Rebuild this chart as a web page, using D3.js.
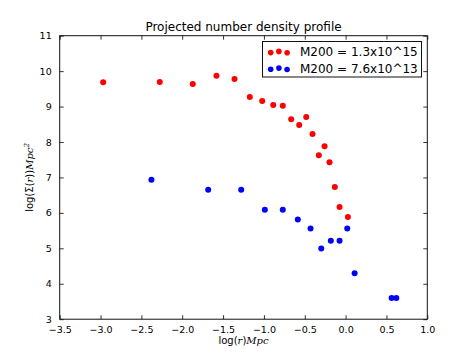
<!DOCTYPE html>
<html>
<head>
<meta charset="utf-8">
<script src="https://cdn.jsdelivr.net/npm/d3@7"></script>
<style>
  html, body { margin: 0; padding: 0; background: #fff; }
  svg { display: block; }
  text { font-family: "DejaVu Sans", sans-serif; fill: #000; }
  .math { font-family: "DejaVu Serif", serif; font-style: italic; }
</style>
</head>
<body>
<svg id="chart" width="474" height="355"></svg>
<script>
// ---- data ----
const redX = [-2.968, -2.275, -1.871, -1.581, -1.360, -1.173, -1.021, -0.886, -0.769, -0.666,
              -0.568, -0.482, -0.405, -0.258, -0.328, -0.197, -0.132, -0.074, 0.028];
const redY = [9.686, 9.694, 9.638, 9.872, 9.779, 9.271, 9.158, 9.045, 9.025, 8.642,
              8.481, 8.707, 8.227, 7.880, 7.626, 7.429, 6.732, 6.168, 5.886];
const blueX = [-2.377, -1.682, -1.278, -0.989, -0.769, -0.585, -0.429, -0.298, -0.181, -0.074,
               0.020, 0.110, 0.563, 0.621];
const blueY = [6.938, 6.656, 6.656, 6.092, 6.092, 5.810, 5.556, 4.992, 5.217, 5.217,
               5.556, 4.298, 3.601, 3.601];
const xTicks = [-3.5, -3.0, -2.5, -2.0, -1.5, -1.0, -0.5, 0.0, 0.5, 1.0];
const yTicks = [3, 4, 5, 6, 7, 8, 9, 10, 11];
const seriesNames = ["M200 = 1.3x10^15", "M200 = 7.6x10^13"];
const seriesColors = ["#ff0000", "#0000ff"];
const titleText = "Projected number density profile";

// ---- layout ----
const L = 59.7, R = 427.3, T = 35.7, B = 319.2;
const svg = d3.select("#chart");
const x = d3.scaleLinear().domain([-3.5, 1.0]).range([L, R]);
const y = d3.scaleLinear().domain([3, 11]).range([B, T]);

const fmtX = v => (v < 0 ? "\u2212" : "") + Math.abs(v).toFixed(1);

// ticks (inside, all four sides)
const tickLen = 4;
const axBottom = d3.axisBottom(x).tickValues(xTicks).tickSize(-tickLen).tickPadding(tickLen + 3).tickFormat(fmtX);
const axTop = d3.axisTop(x).tickValues(xTicks).tickSize(-tickLen).tickFormat("");
const axLeft = d3.axisLeft(y).tickValues(yTicks).tickSize(-tickLen).tickPadding(tickLen + 4).tickFormat(d3.format("d"));
const axRight = d3.axisRight(y).tickValues(yTicks).tickSize(-tickLen).tickFormat("");

function style(g) {
  g.select(".domain").remove();
  g.selectAll(".tick line").attr("stroke", "#000").attr("stroke-width", 0.8);
  g.selectAll(".tick text").attr("font-family", "DejaVu Sans, sans-serif").attr("font-size", 9.5).attr("fill", "#000");
}
svg.append("g").attr("transform", `translate(0,${B})`).call(axBottom).call(style);
svg.append("g").attr("transform", `translate(0,${T})`).call(axTop).call(style);
svg.append("g").attr("transform", `translate(${L},0)`).call(axLeft).call(style);
svg.append("g").attr("transform", `translate(${R},0)`).call(axRight).call(style);

// points
const redPts = redX.map((v, i) => ({x: v, y: redY[i]}));
const bluePts = blueX.map((v, i) => ({x: v, y: blueY[i]}));
svg.append("g").selectAll("circle").data(redPts).join("circle")
  .attr("cx", d => x(d.x)).attr("cy", d => y(d.y)).attr("r", 3).attr("fill", seriesColors[0]);
svg.append("g").selectAll("circle").data(bluePts).join("circle")
  .attr("cx", d => x(d.x)).attr("cy", d => y(d.y)).attr("r", 3).attr("fill", seriesColors[1]);

// frame
svg.append("rect").attr("x", L).attr("y", T).attr("width", R - L).attr("height", B - T)
  .attr("fill", "none").attr("stroke", "#111").attr("stroke-width", 1);

// title
svg.append("text").attr("x", (L + R) / 2).attr("y", T - 5).attr("text-anchor", "middle")
  .attr("font-size", 12).text(titleText);

// x label
const xl = svg.append("text").attr("x", (L + R) / 2).attr("y", 344).attr("text-anchor", "middle").attr("font-size", 10);
xl.append("tspan").text("log(");
xl.append("tspan").attr("class", "math").text("r");
xl.append("tspan").text(")");
xl.append("tspan").attr("class", "math").text("Mpc");

// y label
const yl = svg.append("text").attr("transform", `translate(33,${(T + B) / 2}) rotate(-90)`)
  .attr("text-anchor", "middle").attr("font-size", 10);
yl.append("tspan").text("log(\u03A3(");
yl.append("tspan").attr("class", "math").text("r");
yl.append("tspan").text("))");
yl.append("tspan").attr("class", "math").text("Mpc");
yl.append("tspan").attr("class", "math").attr("font-size", 7).attr("dy", -4).text("2");

// legend
const lg = svg.append("g");
const lgX = 262.5, lgY = 41.5, lgW = 159, lgH = 35.5;
lg.append("rect").attr("x", lgX).attr("y", lgY).attr("width", lgW).attr("height", lgH)
  .attr("fill", "#fff").attr("stroke", "#111").attr("stroke-width", 1);
const offs = [0.6, -0.6, 0.8];
seriesNames.forEach((name, i) => {
  const cy = 52 + i * 16.7;
  [0, 1, 2].forEach(k => {
    lg.append("circle").attr("cx", 270.7 + k * 8.2).attr("cy", cy + offs[k]).attr("r", 2.8).attr("fill", seriesColors[i]);
  });
  lg.append("text").attr("x", 300).attr("y", cy + 4.3).attr("font-size", 12).text(name);
});
</script>
</body>
</html>
